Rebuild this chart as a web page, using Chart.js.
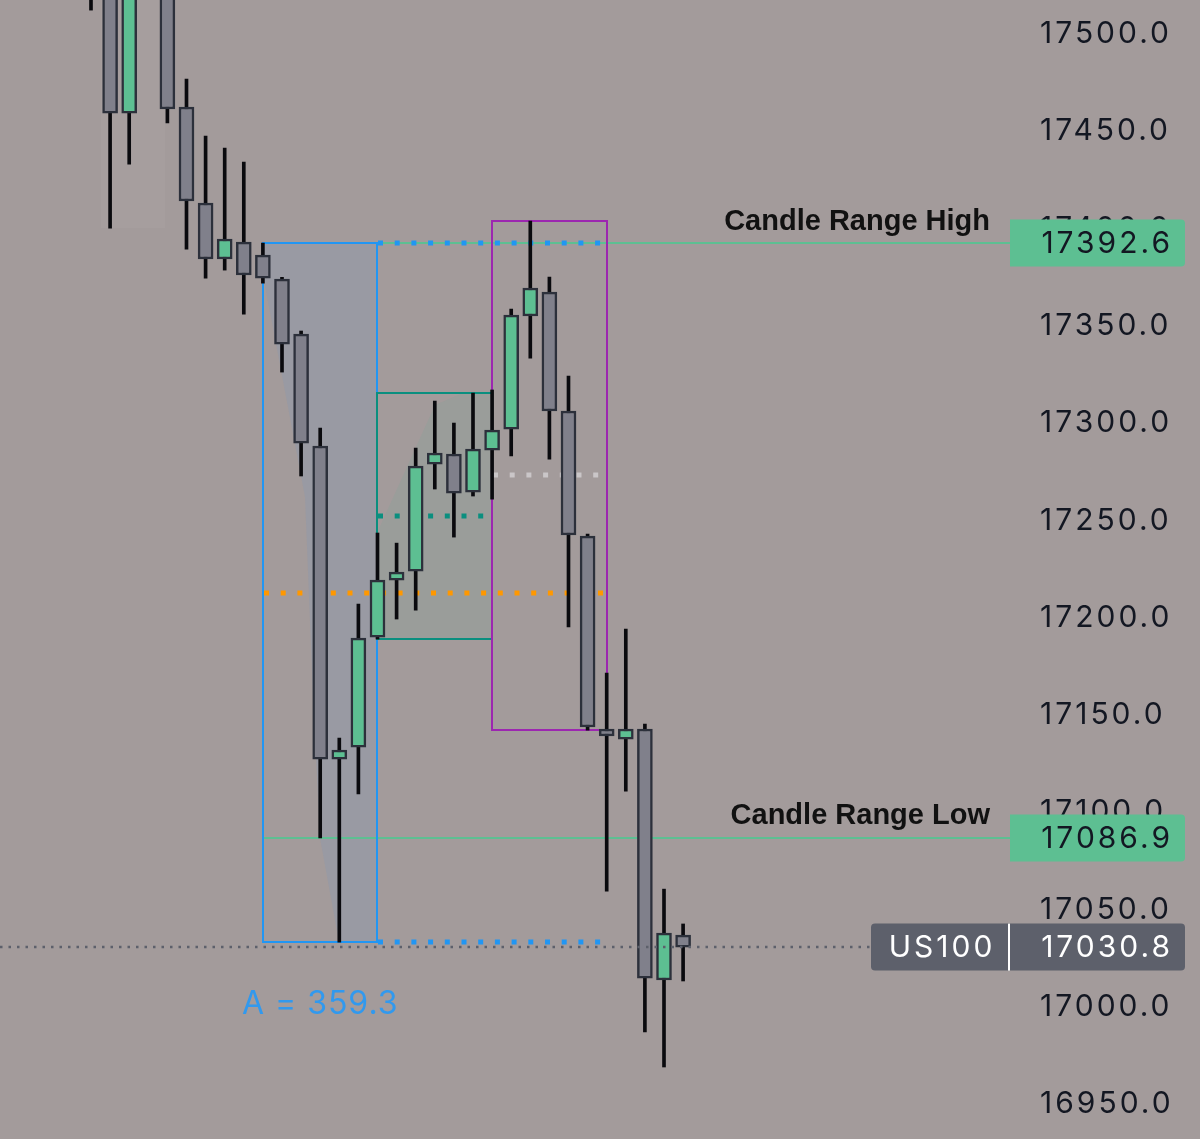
<!DOCTYPE html>
<html><head><meta charset="utf-8">
<script src="https://cdn.jsdelivr.net/npm/chart.js@4.4.1/dist/chart.umd.min.js"></script>
<style>html,body{margin:0;padding:0;background:#a39b9b;}canvas{display:block;}</style>
</head><body>
<canvas id="c" width="1200" height="1139"></canvas>
<script>
// ---- data ----
const candleIndex = [-1,0,1,2,3,4,5,6,7,8,9,10,11,12,13,14,15,16,17,18,19,20,21,22,23,24,25,26,27,28,29,30];
const openPrices  = [17570,17545,17459.4,null,17535,17462.5,17413.2,17384.4,17393.1,17386.4,17374.1,17345.8,17288.3,17127.4,17133.6,17190.1,17219.4,17224.0,17279.0,17284.2,17264.6,17286.2,17297.0,17355.1,17367.4,17306.3,17242.0,17142.9,17137.7,17142.9,17013.9,17037.0];
const highPrices  = [17585,17552,17548,null,17545,17476.9,17447.6,17441.4,17434.2,17392.6,17375.0,17347.4,17297.5,17138.2,17207.1,17243.6,17238.4,17287.3,17311.4,17300.1,17315.5,17317.1,17358.7,17403.9,17375.1,17324.3,17243.0,17171.6,17194.2,17145.4,17060.6,17042.7];
const lowPrices   = [17512.3,17400.3,17433.2,null,17454.3,17389.5,17374.6,17378.7,17356.1,17372.0,17326.3,17272.9,17086.9,17033.3,17109.5,17189.1,17199.4,17204.0,17266.2,17241.5,17262.6,17261.0,17283.2,17333.5,17281.6,17195.3,17142.3,17059.6,17111.0,16987.2,16969.2,17013.4];
const closePrices = [17545,17459.4,17530,null,17461.5,17414.2,17384.4,17394.7,17376.2,17374.6,17340.7,17289.8,17127.4,17132.1,17189.6,17219.4,17223.5,17278.0,17284.7,17264.1,17286.7,17296.5,17355.6,17369.5,17306.3,17242.6,17143.9,17139.3,17142.9,17014.9,17038.0,17030.8];
const yTickValues = [16950,17000,17050,17100,17150,17200,17250,17300,17350,17400,17450,17500];
const symbolName = 'US100';
const rangeHighPrice = 17392.6;
const rangeLowPrice = 17086.9;
const lastPrice = 17030.8;
const rangeHighLabel = 'Candle Range High';
const rangeLowLabel = 'Candle Range Low';
// drawing anchors (candle index / price)
const blueBoxX = [8, 14];
const blueBoxP = [17392.6, 17033.3];
const tealBoxX = [14, 20];
const tealBoxP = [17315.5, 17189.1];
const purpleBoxX = [20, 26];
const purpleBoxP = [17404.0, 17142.5];
const blueFillX = [8, 14, 14, 12, 11, 10.6, 10.2, 8];
const blueFillP = [17392.6, 17392.6, 17033.3, 17033.3, 17086.9, 17160, 17262, 17376];
const tealFillX = [14, 17, 18.5, 20, 20, 14];
const tealFillP = [17243.6, 17309.4, 17315.5, 17315.5, 17189.1, 17189.1];
const fadeBoxX = [-0.5, 2.9];
const fadeBoxP = [17600, 17400.3];

// ---- styles ----
const BG = '#a39b9b';
const UP = '#5dbf92';
const DOWN = '#80808b';
const EDGE = '#2c303b';
const WICK = '#0a0a0e';
const BLUE = '#2196f3';
const TEAL = '#0a8f7f';
const PURPLE = '#9c27b0';
const ORANGE = '#ff9800';
const LINEGREEN = '#5dbf92';
const TICKFONT = 'Inter, "Open Sans", sans-serif';
const TICKSPACING = '3px';

const bodyData = [], wickData = [], bodyColors = [];
candleIndex.forEach((x, i) => {
  if (openPrices[i] == null) return;
  bodyData.push({x: x, y: [openPrices[i], closePrices[i]]});
  wickData.push({x: x, y: [lowPrices[i], highPrices[i]]});
  bodyColors.push(closePrices[i] >= openPrices[i] ? UP : DOWN);
});

const drawingsPlugin = {
  id: 'drawings',
  beforeDraw(chart) {
    const ctx = chart.ctx;
    ctx.save();
    ctx.fillStyle = BG;
    ctx.fillRect(0, 0, chart.width, chart.height);
    ctx.restore();
    ctx.letterSpacing = TICKSPACING;
  },
  beforeDatasetsDraw(chart) {
    const ctx = chart.ctx, xs = chart.scales.x, ys = chart.scales.y, ca = chart.chartArea;
    ctx.letterSpacing = '0px';
    const X = v => Math.round(xs.getPixelForValue(v)), Y = v => Math.round(ys.getPixelForValue(v));
    ctx.save();
    ctx.beginPath(); ctx.rect(ca.left, ca.top, ca.right - ca.left, ca.bottom - ca.top); ctx.clip();
    // faint box
    ctx.fillStyle = 'rgba(255,255,255,0.035)';
    ctx.fillRect(X(fadeBoxX[0]), Y(fadeBoxP[0]), X(fadeBoxX[1]) - X(fadeBoxX[0]), Y(fadeBoxP[1]) - Y(fadeBoxP[0]));
    // polygons
    const poly = (xa, pa, col) => {
      ctx.beginPath();
      xa.forEach((x, i) => i ? ctx.lineTo(X(x), Y(pa[i])) : ctx.moveTo(X(x), Y(pa[i])));
      ctx.closePath(); ctx.fillStyle = col; ctx.fill();
    };
    poly(blueFillX, blueFillP, 'rgba(120,150,190,0.22)');
    poly(tealFillX, tealFillP, 'rgba(90,170,150,0.12)');
    // green range lines
    ctx.strokeStyle = LINEGREEN; ctx.lineWidth = 2;
    [rangeHighPrice, rangeLowPrice].forEach(p => {
      ctx.beginPath(); ctx.moveTo(X(blueBoxX[0]), Y(p)); ctx.lineTo(ca.right, Y(p)); ctx.stroke();
    });
    // rectangles
    const rect = (xa, pa, col) => {
      ctx.strokeStyle = col; ctx.lineWidth = 2;
      ctx.strokeRect(X(xa[0]), Y(pa[0]), X(xa[1]) - X(xa[0]), Y(pa[1]) - Y(pa[0]));
    };
    rect(blueBoxX, blueBoxP, BLUE);
    rect(tealBoxX, tealBoxP, TEAL);
    rect(purpleBoxX, purpleBoxP, PURPLE);
    // dotted lines
    const dots = (x0, x1, p, col, w) => {
      ctx.save();
      ctx.strokeStyle = col; ctx.lineWidth = w; ctx.setLineDash([w, 16.7 - w]); ctx.lineCap = 'butt';
      ctx.beginPath(); ctx.moveTo(X(x0) + 1, Y(p)); ctx.lineTo(X(x1), Y(p)); ctx.stroke();
      ctx.restore();
    };
    dots(blueBoxX[1], purpleBoxX[1], blueBoxP[0], BLUE, 5);
    dots(blueBoxX[1], purpleBoxX[1], blueBoxP[1], BLUE, 5);
    dots(blueBoxX[0], purpleBoxX[1], (blueBoxP[0] + blueBoxP[1]) / 2, ORANGE, 5);
    dots(tealBoxX[0], tealBoxX[1], (tealBoxP[0] + tealBoxP[1]) / 2, TEAL, 5);
    dots(purpleBoxX[0], purpleBoxX[1], (purpleBoxP[0] + purpleBoxP[1]) / 2, 'rgba(215,212,215,0.75)', 5);
    ctx.restore();
  },
  afterDatasetsDraw(chart) {
    const ctx = chart.ctx, ys = chart.scales.y, ca = chart.chartArea;
    const y = Math.round(ys.getPixelForValue(lastPrice));
    ctx.save();
    ctx.strokeStyle = '#5d606b'; ctx.lineWidth = 2.5; ctx.setLineDash([2.5, 6]);
    ctx.beginPath(); ctx.moveTo(0, y); ctx.lineTo(ca.right - 139, y); ctx.stroke();
    ctx.restore();
  },
  afterDraw(chart) {
    const ctx = chart.ctx, xs = chart.scales.x, ys = chart.scales.y, ca = chart.chartArea;
    const X = v => xs.getPixelForValue(v), Y = v => ys.getPixelForValue(v);
    const right = chart.width - 15, txtRight = chart.width - 27;
    ctx.save();
    // price tags
    const tag = (p, col, txtCol) => {
      const y = Y(p);
      ctx.beginPath(); ctx.roundRect(ca.right, y - 23.5, right - ca.right, 47, [0, 4, 4, 0]);
      ctx.fillStyle = col; ctx.fill();
      ctx.letterSpacing = TICKSPACING;
      ctx.fillStyle = txtCol; ctx.font = '30px ' + TICKFONT; ctx.textAlign = 'right'; ctx.textBaseline = 'middle';
      ctx.fillText(p.toFixed(1), txtRight, y + 1);
      ctx.letterSpacing = '0px';
    };
    tag(rangeHighPrice, LINEGREEN, '#131722');
    tag(rangeLowPrice, LINEGREEN, '#131722');
    // last price tag
    const yl = Y(lastPrice);
    ctx.beginPath(); ctx.roundRect(ca.right - 139, yl - 23.5, right - (ca.right - 139), 47, 4);
    ctx.fillStyle = '#5d606b'; ctx.fill();
    ctx.fillStyle = '#ffffff'; ctx.fillRect(ca.right - 2, yl - 23.5, 2, 47);
    ctx.letterSpacing = TICKSPACING;
    ctx.font = '30px ' + TICKFONT; ctx.textBaseline = 'middle';
    ctx.textAlign = 'center'; ctx.fillText(symbolName, ca.right - 68, yl + 1);
    ctx.textAlign = 'right'; ctx.fillText(lastPrice.toFixed(1), txtRight, yl + 1);
    ctx.letterSpacing = '0px';
    // range labels
    ctx.fillStyle = '#111111'; ctx.font = 'bold 29px "Liberation Sans", Arial, sans-serif';
    ctx.textAlign = 'right'; ctx.textBaseline = 'alphabetic';
    ctx.fillText(rangeHighLabel, ca.right - 20, Y(rangeHighPrice) - 13);
    ctx.fillText(rangeLowLabel, ca.right - 20, Y(rangeLowPrice) - 14);
    // measure label
    ctx.letterSpacing = '1px';
    ctx.fillStyle = '#3199ee'; ctx.font = '32px ' + TICKFONT; ctx.textAlign = 'center'; ctx.textBaseline = 'middle';
    const amp = (blueBoxP[0] - blueBoxP[1]).toFixed(1);
    ctx.fillText('A = ' + amp, X((blueBoxX[0] + blueBoxX[1]) / 2), Y(blueBoxP[1]) + 62);
    ctx.letterSpacing = '0px';
    ctx.restore();
  }
};

new Chart(document.getElementById('c'), {
  type: 'bar',
  data: {
    datasets: [
      {label: 'wick', data: wickData, backgroundColor: WICK, borderWidth: 0, barThickness: 3, order: 2, grouped: false},
      {label: 'body', data: bodyData, backgroundColor: bodyColors, borderColor: EDGE, borderWidth: 2.5, borderSkipped: false, barThickness: 15, order: 1, grouped: false}
    ]
  },
  options: {
    responsive: false,
    devicePixelRatio: 1,
    animation: false,
    events: [],
    layout: {padding: 0},
    plugins: {legend: {display: false}, tooltip: {enabled: false}},
    scales: {
      x: {type: 'linear', min: -5.764, max: 47.115, offset: false, display: false},
      y: {
        position: 'right', min: 16932.2, max: 17517.5,
        grid: {display: false, drawTicks: false}, border: {display: false},
        afterBuildTicks: s => { s.ticks = yTickValues.map(v => ({value: v})); },
        afterFit: s => { s.width = 190; s.paddingTop = 0; s.paddingBottom = 0; },
        ticks: {autoSkip: false, padding: 30, crossAlign: 'near', color: '#131722',
          font: {family: TICKFONT, size: 30}, callback: v => Number(v).toFixed(1)}
      }
    }
  },
  plugins: [drawingsPlugin]
});
</script>
</body></html>
